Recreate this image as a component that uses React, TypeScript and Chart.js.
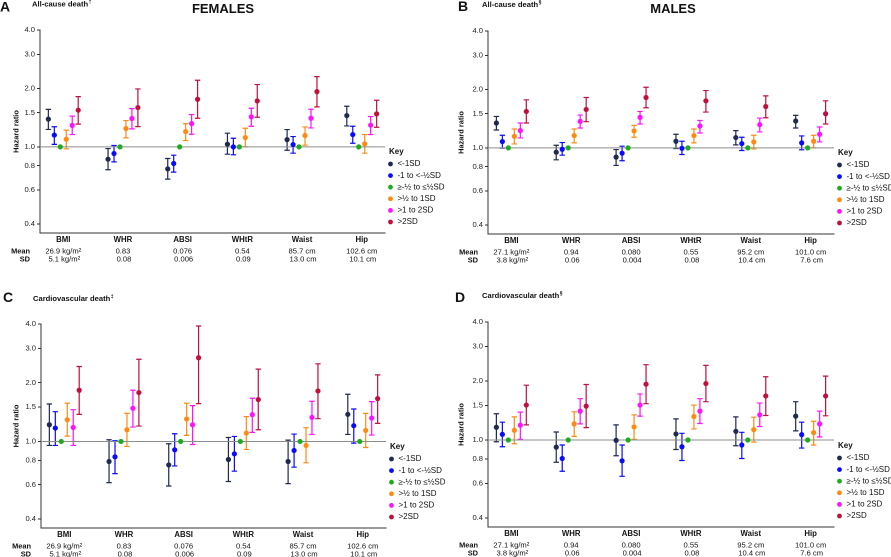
import React, { useEffect, useRef } from "react";
import { Chart, registerables } from "chart.js";

Chart.register(...registerables);

// ---------- shared data ----------
const categories = ["BMI", "WHR", "ABSI", "WHtR", "Waist", "Hip"];
const seriesLabels = ["<-1SD", "-1 to <-½SD", "≥-½ to ≤½SD", ">½ to 1SD", ">1 to 2SD", ">2SD"];
const seriesColors = ["#1e2a50", "#0a0aff", "#1faa1f", "#ff8a12", "#ff10ff", "#c0103c"];
const yTicks = [0.4, 0.6, 0.8, 1.0, 1.5, 2.0, 3.0, 4.0];

const femaleMean = ["26.9 kg/m²", "0.83", "0.076", "0.54", "85.7 cm", "102.6 cm"];
const femaleSD = ["5.1 kg/m²", "0.08", "0.006", "0.09", "13.0 cm", "10.1 cm"];
const maleMean = ["27.1 kg/m²", "0.94", "0.080", "0.55", "95.2 cm", "101.0 cm"];
const maleSD = ["3.8 kg/m²", "0.06", "0.004", "0.08", "10.4 cm", "7.6 cm"];

// ---------- Panel A: females, all-cause death (rows = series, columns = categories) ----------
const aHR = [
  [1.39, 0.864, 0.77, 1.032, 1.09, 1.45],
  [1.15, 0.924, 0.821, 1.0, 1.028, 1.157],
  [1, 1, 1, 1, 1, 1],
  [1.095, 1.243, 1.199, 1.117, 1.144, 1.036],
  [1.29, 1.4, 1.318, 1.427, 1.404, 1.293],
  [1.545, 1.594, 1.759, 1.725, 1.926, 1.479],
];
const aLo = [
  [1.23, 0.762, 0.682, 0.917, 0.961, 1.282],
  [1.03, 0.837, 0.741, 0.91, 0.928, 1.044],
  [null, null, null, null, null, null],
  [0.977, 1.113, 1.078, 1.0, 1.02, 0.928],
  [1.157, 1.238, 1.162, 1.277, 1.252, 1.157],
  [1.31, 1.272, 1.404, 1.421, 1.607, 1.262],
];
const aHi = [
  [1.56, 0.98, 0.871, 1.176, 1.228, 1.619],
  [1.27, 1.016, 0.906, 1.108, 1.13, 1.277],
  [null, null, null, null, null, null],
  [1.22, 1.366, 1.318, 1.247, 1.267, 1.157],
  [1.44, 1.574, 1.467, 1.581, 1.563, 1.433],
  [1.815, 1.988, 2.203, 2.094, 2.3, 1.738],
];

// ---------- Panel B: males, all-cause death ----------
const bHR = [
  [1.343, 0.95, 0.896, 1.082, 1.13, 1.375],
  [1.078, 0.984, 0.939, 0.995, 1.052, 1.061],
  [1, 1, 1, 1, 1, 1],
  [1.147, 1.157, 1.222, 1.157, 1.073, 1.082],
  [1.227, 1.369, 1.436, 1.296, 1.317, 1.175],
  [1.541, 1.578, 1.817, 1.747, 1.634, 1.499],
];
const bLo = [
  [1.236, 0.868, 0.812, 0.992, 1.036, 1.266],
  [0.996, 0.917, 0.858, 0.924, 0.969, 0.977],
  [null, null, null, null, null, null],
  [1.048, 1.061, 1.134, 1.061, 0.988, 1.0],
  [1.125, 1.266, 1.327, 1.193, 1.208, 1.073],
  [1.343, 1.364, 1.609, 1.529, 1.43, 1.327],
];
const bHi = [
  [1.452, 1.032, 0.98, 1.175, 1.227, 1.47],
  [1.161, 1.065, 1.02, 1.082, 1.134, 1.152],
  [null, null, null, null, null, null],
  [1.251, 1.251, 1.306, 1.251, 1.161, 1.161],
  [1.343, 1.476, 1.541, 1.385, 1.424, 1.281],
  [1.768, 1.817, 2.052, 1.973, 1.853, 1.747],
];

// ---------- Panel C: females, cardiovascular death ----------
const cHR = [
  [1.218, 0.789, 0.758, 0.808, 0.789, 1.377],
  [1.171, 0.834, 0.906, 0.864, 0.899, 1.204],
  [1, 1, 1, 1, 1, 1],
  [1.293, 1.148, 1.303, 1.104, 0.954, 1.139],
  [1.18, 1.479, 1.218, 1.372, 1.329, 1.318],
  [1.83, 1.78, 2.685, 1.639, 1.815, 1.658],
];
const cLo = [
  [0.954, 0.615, 0.591, 0.623, 0.608, 1.086],
  [0.954, 0.684, 0.749, 0.704, 0.738, 0.98],
  [null, null, null, null, null, null],
  [1.065, 0.943, 1.074, 0.91, 0.777, 0.931],
  [0.954, 1.185, 0.965, 1.113, 1.086, 1.078],
  [1.377, 1.199, 1.563, 1.148, 1.308, 1.238],
];
const cHi = [
  [1.556, 1.02, 0.973, 1.048, 1.016, 1.746],
  [1.421, 1.008, 1.095, 1.061, 1.091, 1.467],
  [null, null, null, null, null, null],
  [1.569, 1.393, 1.569, 1.34, 1.176, 1.393],
  [1.455, 1.83, 1.526, 1.665, 1.607, 1.6],
  [2.422, 2.639, 3.907, 2.348, 2.5, 2.194],
];

// ---------- Panel D: males, cardiovascular death ----------
const dHR = [
  [1.162, 0.92, 0.996, 1.074, 1.108, 1.324],
  [1.069, 0.805, 0.783, 0.924, 0.943, 1.065],
  [1, 1, 1, 1, 1, 1],
  [1.121, 1.209, 1.166, 1.318, 1.13, 1.091],
  [1.19, 1.404, 1.508, 1.404, 1.345, 1.209],
  [1.508, 1.489, 1.926, 1.941, 1.678, 1.678],
];
const dLo = [
  [0.98, 0.77, 0.831, 0.895, 0.935, 1.113],
  [0.924, 0.693, 0.653, 0.786, 0.805, 0.91],
  [null, null, null, null, null, null],
  [0.957, 1.044, 1.008, 1.139, 0.976, 0.943],
  [1.008, 1.209, 1.324, 1.214, 1.171, 1.036],
  [1.195, 1.157, 1.532, 1.569, 1.334, 1.329],
];
const dHi = [
  [1.361, 1.099, 1.195, 1.282, 1.313, 1.569],
  [1.233, 0.943, 0.943, 1.082, 1.095, 1.233],
  [null, null, null, null, null, null],
  [1.313, 1.393, 1.345, 1.508, 1.308, 1.247],
  [1.388, 1.625, 1.718, 1.625, 1.544, 1.404],
  [1.904, 1.919, 2.422, 2.403, 2.102, 2.118],
];

const seriesOffsets = [-0.25, -0.15, -0.05, 0.05, 0.15, 0.25];
const X_MIN = -0.39;
const X_MAX = 5.39;
const FONT = "'Liberation Sans', Arial, Helvetica, sans-serif";

type PanelProps = {
  left: number;
  top: number;
  width: number;
  height: number;
  plotTop: number;
  plotBottom: number;
  axisX: number;
  plotRight: number;
  letter: string;
  letterX: number;
  letterY: number;
  subtitle: string;
  subX: number;
  subY: number;
  title?: string;
  titleX?: number;
  hr: number[][];
  lo: (number | null)[][];
  hi: (number | null)[][];
  mean: string[];
  sd: string[];
};

function Panel(p: PanelProps) {
  const ref = useRef<HTMLCanvasElement | null>(null);

  useEffect(() => {
    const canvas = ref.current;
    if (!canvas) return;

    const pointDatasets = seriesLabels.map((label, s) => ({
      type: "scatter" as const,
      label,
      data: categories.map((_, i) => ({ x: i + seriesOffsets[s], y: p.hr[s][i] })),
      backgroundColor: seriesColors[s],
      borderColor: seriesColors[s],
      borderWidth: 0,
      pointRadius: 2.6,
      pointHoverRadius: 2.6,
      order: 1,
    }));

    const refLine = {
      type: "line" as const,
      label: "ref",
      data: [
        { x: X_MIN, y: 1 },
        { x: X_MAX, y: 1 },
      ],
      borderColor: "#8c8c8c",
      borderWidth: 1,
      pointRadius: 0,
      order: 10,
    };

    const decor = {
      id: "decor",
      beforeDatasetsDraw(chart: any) {
        const ctx = chart.ctx;
        const xs = chart.scales.x;
        const ys = chart.scales.y;
        ctx.save();
        ctx.lineWidth = 1.2;
        for (let s = 0; s < seriesLabels.length; s++) {
          for (let i = 0; i < categories.length; i++) {
            const l = p.lo[s][i];
            const h = p.hi[s][i];
            if (l == null || h == null) continue;
            const x = xs.getPixelForValue(i + seriesOffsets[s]);
            const y1 = ys.getPixelForValue(l);
            const y2 = ys.getPixelForValue(h);
            ctx.strokeStyle = seriesColors[s];
            ctx.beginPath();
            ctx.moveTo(x, y1);
            ctx.lineTo(x, y2);
            ctx.moveTo(x - 2.7, y1);
            ctx.lineTo(x + 2.7, y1);
            ctx.moveTo(x - 2.7, y2);
            ctx.lineTo(x + 2.7, y2);
            ctx.stroke();
          }
        }
        ctx.restore();
      },
      afterDraw(chart: any) {
        const ctx = chart.ctx;
        const xs = chart.scales.x;
        const area = chart.chartArea;
        ctx.save();
        ctx.fillStyle = "#111";
        ctx.textBaseline = "middle";

        // panel letter
        ctx.font = `bold 14px ${FONT}`;
        ctx.textAlign = "left";
        ctx.fillText(p.letter, p.letterX, p.letterY);

        // subtitle with superscript mark
        ctx.font = `bold 7.6px ${FONT}`;
        const base = p.subtitle.slice(0, -1);
        const mark = p.subtitle.slice(-1);
        ctx.fillText(base, p.subX, p.subY);
        const w = ctx.measureText(base).width;
        ctx.font = `bold 5px ${FONT}`;
        ctx.fillText(mark, p.subX + w + 0.5, p.subY - 2.5);

        // main title
        if (p.title) {
          ctx.font = `bold 13px ${FONT}`;
          ctx.textAlign = "center";
          ctx.fillText(p.title, p.titleX ?? 0, 9.5);
        }

        // Mean / SD rows
        const meanY = area.bottom + 18.5;
        const sdY = area.bottom + 26.5;
        ctx.font = `bold 7.4px ${FONT}`;
        ctx.textAlign = "right";
        ctx.fillText("Mean", area.left - 10, meanY);
        ctx.fillText("SD", area.left - 10, sdY);
        ctx.font = `7.6px ${FONT}`;
        ctx.textAlign = "center";
        for (let i = 0; i < categories.length; i++) {
          const x = xs.getPixelForValue(i);
          ctx.fillText(p.mean[i], x, meanY);
          ctx.fillText(p.sd[i], x + 1, sdY);
        }

        // Key legend
        const kx = area.right + 4;
        ctx.textAlign = "left";
        ctx.font = `bold 8px ${FONT}`;
        ctx.fillText("Key", kx, area.bottom - 81);
        ctx.font = `8px ${FONT}`;
        for (let s = 0; s < seriesLabels.length; s++) {
          const y = area.bottom - 69 + s * 11.6;
          ctx.fillStyle = seriesColors[s];
          ctx.beginPath();
          ctx.arc(kx + 1.5, y, 2.4, 0, Math.PI * 2);
          ctx.fill();
          ctx.fillStyle = "#111";
          ctx.fillText(seriesLabels[s], kx + 8.5, y);
        }
        ctx.restore();
      },
    };

    const chart = new Chart(canvas, {
      type: "scatter",
      data: { datasets: [...pointDatasets, refLine] as any },
      plugins: [decor],
      options: {
        responsive: false,
        animation: false,
        devicePixelRatio: 2,
        layout: {
          padding: { top: p.plotTop, right: p.width - p.plotRight, bottom: 0, left: 0 },
        },
        plugins: {
          legend: { display: false },
          tooltip: { enabled: false },
          title: { display: false },
        },
        scales: {
          x: {
            type: "linear",
            min: X_MIN,
            max: X_MAX,
            afterBuildTicks: (scale: any) => {
              scale.ticks = categories.map((_, i) => ({ value: i }));
            },
            afterFit: (scale: any) => {
              scale.height = p.height - p.plotBottom;
            },
            grid: { display: false, drawTicks: false, tickLength: 0 },
            border: { display: true, color: "#333", width: 1 },
            ticks: {
              autoSkip: false,
              maxRotation: 0,
              padding: 2,
              color: "#111",
              font: { family: FONT, size: 7.8, weight: "bold" },
              callback: (v: any) => categories[Math.round(Number(v))] ?? "",
            },
          },
          y: {
            type: "logarithmic",
            min: 0.36,
            max: 4.0,
            afterBuildTicks: (scale: any) => {
              scale.ticks = yTicks.map((v) => ({ value: v }));
            },
            afterFit: (scale: any) => {
              scale.width = p.axisX;
            },
            grid: {
              display: true,
              drawOnChartArea: false,
              drawTicks: true,
              tickLength: 3,
              color: "#333",
            },
            border: { display: true, color: "#333", width: 1 },
            ticks: {
              padding: 2,
              color: "#222",
              font: { family: FONT, size: 7.6 },
              callback: (v: any) => Number(v).toFixed(1),
            },
            title: {
              display: true,
              text: "Hazard ratio",
              color: "#111",
              padding: { top: 12, bottom: 0 },
              font: { family: FONT, size: 7.4, weight: "bold" },
            },
          },
        },
      } as any,
    });

    return () => chart.destroy();
  }, []);

  return (
    <canvas
      ref={ref}
      width={p.width}
      height={p.height}
      style={{
        position: "absolute",
        left: p.left,
        top: p.top,
        width: p.width,
        height: p.height,
      }}
    />
  );
}

export default function App() {
  return (
    <div
      style={{
        position: "absolute",
        left: 0,
        top: 0,
        width: 891,
        height: 557,
        background: "#fff",
        overflow: "hidden",
      }}
    >
      <Panel
        left={0}
        top={0}
        width={445}
        height={280}
        plotTop={30}
        plotBottom={233}
        axisX={40}
        plotRight={385}
        letter="A"
        letterX={0}
        letterY={7.5}
        subtitle="All-cause death†"
        subX={32}
        subY={4.5}
        title="FEMALES"
        titleX={223}
        hr={aHR}
        lo={aLo}
        hi={aHi}
        mean={femaleMean}
        sd={femaleSD}
      />
      <Panel
        left={445}
        top={0}
        width={446}
        height={280}
        plotTop={31}
        plotBottom={234}
        axisX={43}
        plotRight={389}
        letter="B"
        letterX={13}
        letterY={7}
        subtitle="All-cause death§"
        subX={37}
        subY={5}
        title="MALES"
        titleX={228}
        hr={bHR}
        lo={bLo}
        hi={bHi}
        mean={maleMean}
        sd={maleSD}
      />
      <Panel
        left={0}
        top={280}
        width={445}
        height={277}
        plotTop={44}
        plotBottom={248}
        axisX={41}
        plotRight={386}
        letter="C"
        letterX={3}
        letterY={18}
        subtitle="Cardiovascular death‡"
        subX={33}
        subY={19}
        hr={cHR}
        lo={cLo}
        hi={cHi}
        mean={femaleMean}
        sd={femaleSD}
      />
      <Panel
        left={445}
        top={280}
        width={446}
        height={277}
        plotTop={42}
        plotBottom={247}
        axisX={43}
        plotRight={389}
        letter="D"
        letterX={10}
        letterY={18}
        subtitle="Cardiovascular death§"
        subX={37}
        subY={16}
        hr={dHR}
        lo={dLo}
        hi={dHi}
        mean={maleMean}
        sd={maleSD}
      />
    </div>
  );
}
